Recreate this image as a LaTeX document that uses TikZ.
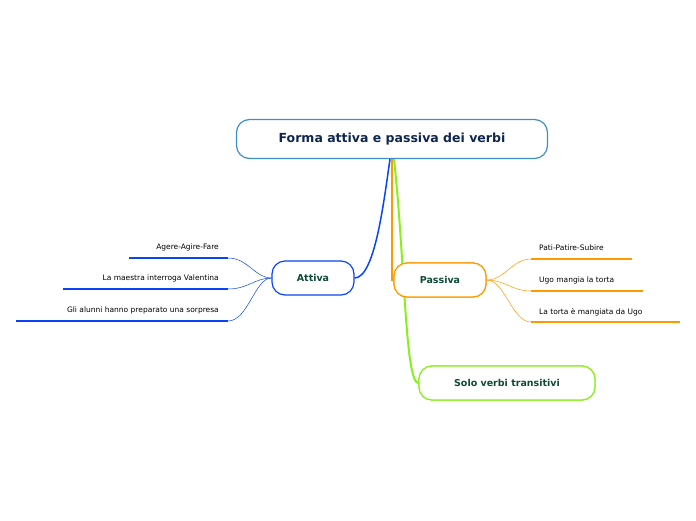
\documentclass[tikz,border=0pt]{standalone}
\usepackage{fontspec}
\setmainfont{DejaVu Sans}
\begin{document}
\begin{tikzpicture}[x=1pt,y=-1pt,
  box/.style={draw,line width=1.2pt,rounded corners=13pt,fill=white,inner sep=0pt,font=\bfseries},
  leaf/.style={font=\fontsize{7.5}{9}\selectfont,inner sep=0pt},
  thin/.style={line width=0.5pt}]
\definecolor{rootc}{HTML}{3D8FCC}
\definecolor{bluec}{HTML}{0A44F5}
\definecolor{orc}{HTML}{FF9900}
\definecolor{grc}{HTML}{88F01A}
\definecolor{navy}{HTML}{0F2650}
\definecolor{dgreen}{HTML}{0E4A38}
\useasboundingbox (0,0) rectangle (696,520);
% connectors behind
\coordinate (rb) at (390,159);
\coordinate (ob) at (392,159);
\coordinate (gb) at (394,159);
\node[box,draw=bluec,minimum width=82pt,minimum height=34pt,font=\bfseries\fontsize{9.5}{11}\selectfont,text=dgreen] (att) at (313,278) {Attiva};
\node[box,draw=orc,minimum width=92pt,minimum height=34pt,font=\bfseries\fontsize{9.5}{11}\selectfont,text=dgreen] (pas) at (440,280) {Passiva};
\node[box,draw=grc,minimum width=176pt,minimum height=34pt,font=\bfseries\fontsize{9.5}{11}\selectfont,text=dgreen] (solo) at (507,383) {Solo verbi transitivi};
\begin{scope}[on background layer/.style={}]
\draw[bluec,line width=1.5pt] (rb) .. controls (384,200) and (375,278) .. (att.east);
\draw[orc,line width=1.2pt] (ob) -- (392,280) -- (pas.west);
\draw[grc,line width=2pt] (gb) .. controls (405,260) and (405,383) .. (solo.west);
\end{scope}
\node[box,draw=rootc,minimum width=311pt,minimum height=39pt,font=\bfseries\fontsize{12.5}{14}\selectfont,text=navy] (root) at (392,139) {Forma attiva e passiva dei verbi};
% redraw passive/solo boxes on top of lines
\node[box,draw=orc,minimum width=92pt,minimum height=34pt,font=\bfseries\fontsize{9.5}{11}\selectfont,text=dgreen] at (440,280) {Passiva};
\node[box,draw=grc,minimum width=176pt,minimum height=34pt,font=\bfseries\fontsize{9.5}{11}\selectfont,text=dgreen] at (507,383) {Solo verbi transitivi};
% Attiva leaves
\coordinate (a1) at (228,258); \coordinate (a1e) at (129,258);
\coordinate (a2) at (228,289); \coordinate (a2e) at (63,289);
\coordinate (a3) at (228,321); \coordinate (a3e) at (16,321);
\foreach \a/\e in {a1/a1e,a2/a2e,a3/a3e}{
  \draw[bluec,line width=2pt] (\a) -- (\e);
  \draw[bluec,thin] (att.west) .. controls (255,278) and (248,0|-\a) .. (\a);
}
\node[leaf,anchor=base east] (t1) at (219,249) {Agere-Agire-Fare};
\node[leaf,anchor=base east] (t2) at (219,280) {La maestra interroga Valentina};
\node[leaf,anchor=base east] (t3) at (219,312) {Gli alunni hanno preparato una sorpresa};
% Passiva leaves
\coordinate (p1) at (531,259); \coordinate (p1e) at (632,259);
\coordinate (p2) at (531,291); \coordinate (p2e) at (643,291);
\coordinate (p3) at (531,322); \coordinate (p3e) at (680,322);
\foreach \a/\e in {p1/p1e,p2/p2e,p3/p3e}{
  \draw[orc,line width=2pt] (\a) -- (\e);
  \draw[orc,thin] (pas.east) .. controls (505,280) and (512,0|-\a) .. (\a);
}
\node[leaf,anchor=base west] (u1) at (539,250) {Pati-Patire-Subire};
\node[leaf,anchor=base west] (u2) at (539,282) {Ugo mangia la torta};
\node[leaf,anchor=base west] (u3) at (539,314) {La torta è mangiata da Ugo};
\end{tikzpicture}
\end{document}
